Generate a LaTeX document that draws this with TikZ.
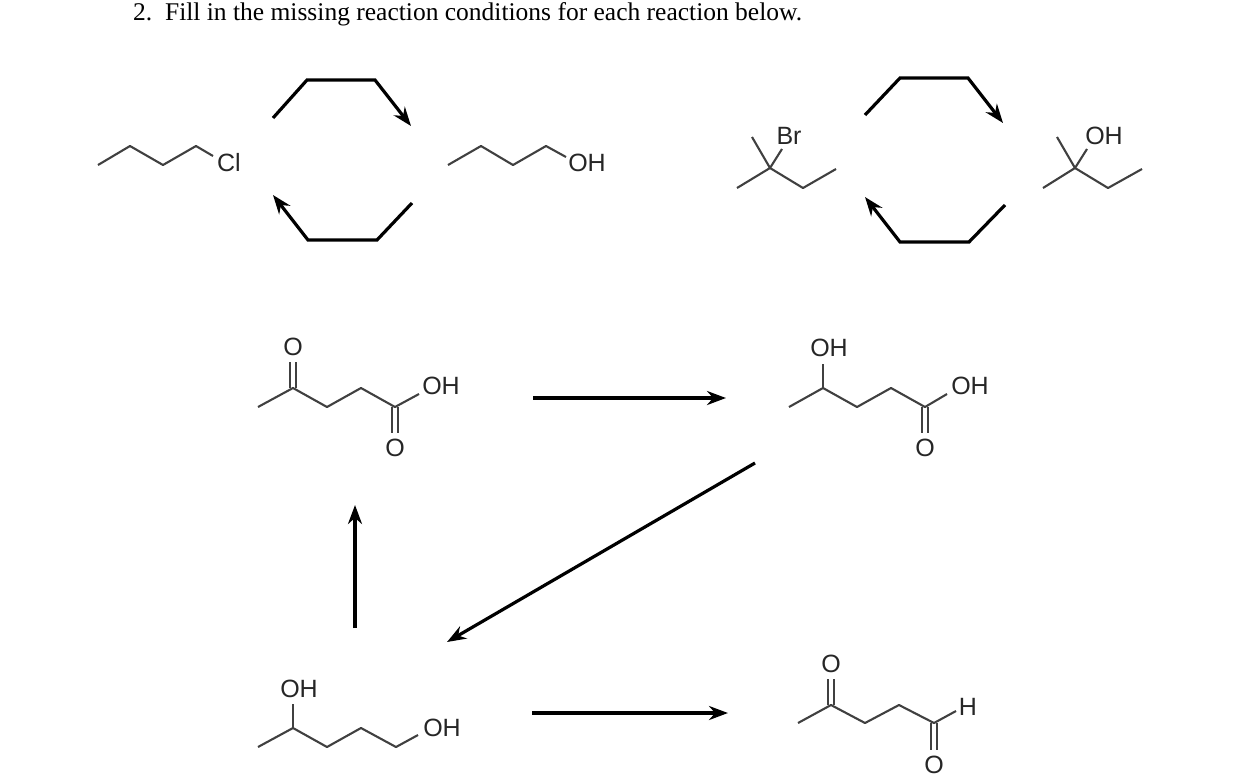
\documentclass[tikz,border=0pt]{standalone}
\usepackage{fontspec}
\setmainfont{Liberation Serif}
\newfontfamily\atomfont{Liberation Sans}
\usetikzlibrary{arrows.meta}
\tikzset{
  bond/.style={draw=black!75, line width=2.1pt, line join=round},
  rxn/.style={draw=black, line width=3.2pt, -{Stealth[length=19pt,width=14pt]}},
  atom/.style={font=\atomfont\fontsize{25}{27}\selectfont, text=black!85, inner sep=0pt},
}
\begin{document}
\begin{tikzpicture}[x=1pt,y=-1pt]
\useasboundingbox (0,0) rectangle (1234,777);
\node[anchor=west, font=\fontsize{25.5}{28}\selectfont, inner sep=0pt] (title) at (133,14) {2.\ \ Fill in the missing reaction conditions for each reaction below.};
% butyl chloride
\draw[bond] (98,165)--(130,146)--(163,165)--(196,146)--(213,156);
\node[atom] (cl) at (229,163) {Cl};
% butanol
\draw[bond] (448,165)--(481,146)--(513,165)--(546,146)--(566,157);
\node[atom] (oh1) at (587,163) {OH};
% cycle arrows left
\coordinate (a1s) at (273,118); \coordinate (a1e) at (411,126);
\draw[rxn, line join=miter] (a1s)--(307,80)--(375,80)--(a1e);
\coordinate (a2s) at (412,203); \coordinate (a2e) at (273,195);
\draw[rxn, line join=miter] (a2s)--(377,240)--(308,240)--(a2e);
% bromide
\draw[bond] (752,137)--(770,168)--(737,188);
\draw[bond] (770,168)--(803,188)--(836,169);
\draw[bond] (770,168)--(782,149);
\node[atom] (br) at (789,136) {Br};
% tertiary alcohol
\draw[bond] (1057,137)--(1075,168)--(1043,188);
\draw[bond] (1075,168)--(1108,188)--(1142,169);
\draw[bond] (1075,168)--(1087,149);
\node[atom] (oh2) at (1104,136) {OH};
% cycle arrows right
\coordinate (b1s) at (865,115); \coordinate (b1e) at (1003,123);
\draw[rxn, line join=miter] (b1s)--(900,78)--(968,78)--(b1e);
\coordinate (b2s) at (1005,205); \coordinate (b2e) at (865,197);
\draw[rxn, line join=miter] (b2s)--(969,242)--(900,242)--(b2e);
% levulinic acid
\draw[bond] (258,407)--(293,388)--(327,407)--(361,388)--(395,407)--(419,394);
\draw[bond] (290,388)--(290,362); \draw[bond] (296,388)--(296,362);
\node[atom] (o1) at (293,347) {O};
\draw[bond] (392,407)--(392,433); \draw[bond] (398,407)--(398,433);
\node[atom] (o2) at (395,448) {O};
\node[atom] (oh3) at (441,386) {OH};
% hydroxy acid
\draw[bond] (789,407)--(823,388)--(857,407)--(891,388)--(925,407)--(947,394);
\draw[bond] (823,388)--(823,364);
\node[atom] (oh4) at (829,348) {OH};
\draw[bond] (922,407)--(922,433); \draw[bond] (928,407)--(928,433);
\node[atom] (o3) at (925,448) {O};
\node[atom] (oh5) at (970,386) {OH};
% diol
\draw[bond] (258,747)--(293,728)--(327,747)--(361,728)--(396,747)--(418,735);
\draw[bond] (293,728)--(293,704);
\node[atom] (oh6) at (299,689) {OH};
\node[atom] (oh7) at (442,728) {OH};
% keto aldehyde
\draw[bond] (798,723)--(831,705)--(865,723)--(899,705)--(934,723)--(956,711);
\draw[bond] (828,705)--(828,679); \draw[bond] (834,705)--(834,679);
\node[atom] (o4) at (831,664) {O};
\draw[bond] (931,723)--(931,750); \draw[bond] (937,723)--(937,750);
\node[atom] (o5) at (934,765) {O};
\node[atom] (h1) at (968,707) {H};
% reaction arrows
\coordinate (r1s) at (533,398); \coordinate (r1e) at (726,398);
\draw[rxn] (r1s)--(r1e);
\coordinate (r2s) at (755,463); \coordinate (r2e) at (447,642);
\draw[rxn] (r2s)--(r2e);
\coordinate (r3s) at (355,628); \coordinate (r3e) at (355,505);
\draw[rxn] (r3s)--(r3e);
\coordinate (r4s) at (532,713); \coordinate (r4e) at (728,713);
\draw[rxn] (r4s)--(r4e);
\end{tikzpicture}
\end{document}
